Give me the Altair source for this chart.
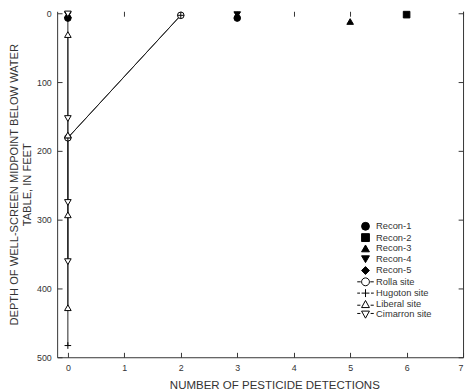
import altair as alt
import pandas as pd

# ---- data ----
series_names = ["Recon-1", "Recon-2", "Recon-3", "Recon-4", "Recon-5",
                "Rolla site", "Hugoton site", "Liberal site", "Cimarron site"]
site_names = ["Rolla site", "Hugoton site", "Liberal site", "Cimarron site"]

recon1_x = [0, 3]
recon1_y = [7, 7]
recon2_x = [6]
recon2_y = [2]
recon3_x = [5]
recon3_y = [12]
recon4_x = [0, 3]
recon4_y = [2, 2]
recon5_x = [0]
recon5_y = [6]
rolla_x = [2, 0]
rolla_y = [3, 181]
hugoton_x = [2, 0, 0]
hugoton_y = [3, 181, 483]
liberal_x = [0, 0, 0, 0]
liberal_y = [31, 177, 293, 428]
cimarron_x = [0, 0, 0, 0]
cimarron_y = [1, 153, 275, 361]

x_ticks = [0, 1, 2, 3, 4, 5, 6, 7]
y_ticks = [0, 100, 200, 300, 400, 500]

all_x = [recon1_x, recon2_x, recon3_x, recon4_x, recon5_x, rolla_x, hugoton_x, liberal_x, cimarron_x]
all_y = [recon1_y, recon2_y, recon3_y, recon4_y, recon5_y, rolla_y, hugoton_y, liberal_y, cimarron_y]

rows = []
for name, xs, ys in zip(series_names, all_x, all_y):
    for i, (a, b) in enumerate(zip(xs, ys)):
        rows.append({"series": name, "x": a, "y": b, "idx": i})
df = pd.DataFrame(rows)
line_df = df[df["series"].isin(site_names)]

# ---- styling ----
FONT = "Liberation Sans"
TXT = "#333333"
W, H = 413, 352

PLUS = "M-1,0H1M0,-1V1"
plot_shapes = ["circle", "square", "triangle-up", "triangle-down", "diamond",
               "circle", PLUS, "triangle-up", "triangle-down"]
L_CIRCLE = "M-2.1,0H-1.2M1.2,0H2.1M1,0A1,1 0 1,1 -1,0A1,1 0 1,1 1,0Z"
L_PLUS = "M-2.1,0H-1.4M-1,0H1M0,-1V1M1.4,0H2.1"
L_TUP = "M-2.1,0.2H-1.3M1.3,0.2H2.1M0,-1L1,0.8L-1,0.8Z"
L_TDOWN = "M-2.1,-0.2H-1.3M1.3,-0.2H2.1M0,1L1,-0.8L-1,-0.8Z"
legend_shapes = ["circle", "square", "triangle-up", "triangle-down", "diamond",
                 L_CIRCLE, L_PLUS, L_TUP, L_TDOWN]
fills = ["black"] * 5 + ["white"] * 4
strokes = ["black"] * 9

xs = alt.Scale(domain=[-0.19, 7], nice=False, zero=False)
ys = alt.Scale(domain=[-2.86, 500], reverse=True, nice=False, zero=False)

# main axes (labels, domain lines)
ax_x_main = alt.Axis(orient="bottom", values=x_ticks, format="d", tickSize=0,
                     labelPadding=6, title="NUMBER OF PESTICIDE DETECTIONS",
                     titlePadding=8, titleX=221, titleFontSize=11.7)
ax_y_main = alt.Axis(orient="left", values=y_ticks, format="d", tickSize=0,
                     labelPadding=6,
                     title=["DEPTH OF WELL-SCREEN MIDPOINT BELOW WATER", "TABLE, IN FEET"],
                     titlePadding=4, titleLineHeight=13.5, titleFontSize=11.3)
# inward ticks
ax_x_in_bottom = alt.Axis(orient="top", offset=-H, values=x_ticks, tickSize=5,
                          labels=False, domain=False, title=None)
ax_x_in_top = alt.Axis(orient="bottom", offset=-H, values=x_ticks, tickSize=5,
                       labels=False, domain=False, title=None)
ax_y_in_left = alt.Axis(orient="right", offset=-W, values=y_ticks, tickSize=5,
                        labels=False, domain=False, title=None)
ax_y_in_right = alt.Axis(orient="left", offset=-W, values=y_ticks, tickSize=5,
                         labels=False, domain=True, title=None)

lines = alt.Chart(line_df).mark_line(color="#222222", strokeWidth=1).encode(
    x=alt.X("x:Q", scale=xs, axis=ax_x_main),
    y=alt.Y("y:Q", scale=ys, axis=ax_y_main),
    detail="series:N",
    order="idx:Q",
)

points = alt.Chart(df).mark_point(size=45, stroke="black", strokeWidth=1, opacity=1).encode(
    x=alt.X("x:Q", scale=xs, axis=ax_x_in_bottom),
    y=alt.Y("y:Q", scale=ys, axis=ax_y_in_left),
    shape=alt.Shape("series:N", scale=alt.Scale(domain=series_names, range=plot_shapes), legend=None),
    fill=alt.Fill("series:N", scale=alt.Scale(domain=series_names, range=fills), legend=None),
)

leg = alt.Legend(orient="none", legendX=309, legendY=214, title=None,
                 symbolSize=64, symbolOpacity=1, symbolStrokeColor="black",
                 symbolStrokeWidth=1, labelFontSize=9.5, labelFont=FONT,
                 labelColor=TXT, labelOffset=6, rowPadding=-1.5, padding=0)

legend_layer = alt.Chart(df).mark_point(size=64, strokeWidth=1, opacity=0).encode(
    x=alt.X("x:Q", scale=xs, axis=ax_x_in_top),
    y=alt.Y("y:Q", scale=ys, axis=ax_y_in_right),
    shape=alt.Shape("series:N", scale=alt.Scale(domain=series_names, range=legend_shapes), legend=leg),
    fill=alt.Fill("series:N", scale=alt.Scale(domain=series_names, range=fills), legend=leg),
    stroke=alt.Stroke("series:N", scale=alt.Scale(domain=series_names, range=strokes), legend=leg),
)

chart = alt.layer(lines, points, legend_layer).resolve_axis(
    x="independent", y="independent"
).resolve_scale(
    shape="independent", fill="independent", stroke="independent"
).properties(
    width=W, height=H,
    autosize=alt.AutoSizeParams(type="none"),
    padding={"left": 50, "top": 0, "right": 3, "bottom": 32},
).configure_view(stroke=None).configure_axis(
    grid=False, domainColor="#333333", domainWidth=1, tickColor="#333333", tickWidth=1,
    labelFont=FONT, labelFontSize=9, labelColor=TXT,
    titleFont=FONT, titleFontSize=11, titleFontWeight="normal", titleColor=TXT,
)

chart.save("out.html", embed_options={"renderer": "svg", "actions": False})
